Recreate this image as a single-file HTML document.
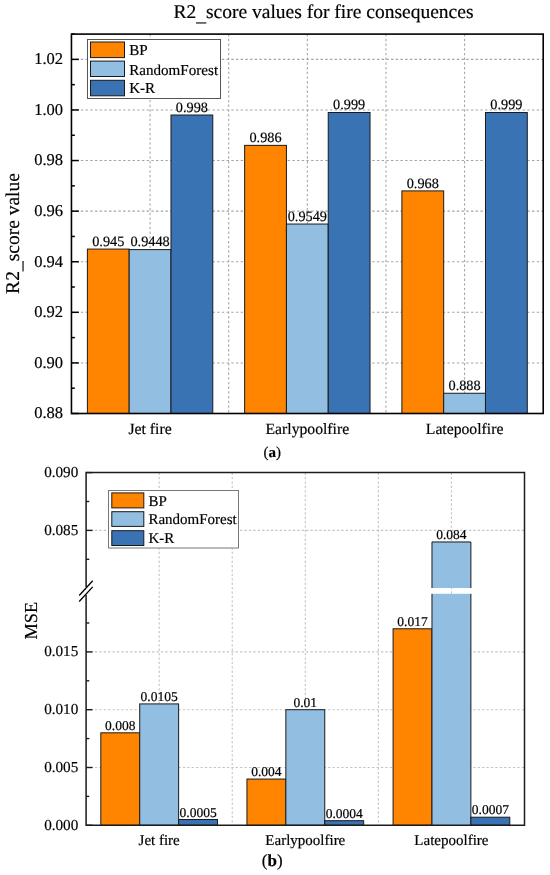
<!DOCTYPE html>
<html><head><meta charset="utf-8"><title>R2_score values for fire consequences</title>
<style>
html,body{margin:0;padding:0;background:#fff;}
body{width:550px;height:875px;overflow:hidden;}
svg{display:block;}
text{font-family:"Liberation Serif", "Times New Roman", serif;fill:#000;stroke:#000;stroke-width:0.18px;}
svg{text-rendering:geometricPrecision;}
</style></head><body>
<svg width="550" height="875" viewBox="0 0 550 875">
<rect width="550" height="875" fill="#fff"/>
<line x1="150.08" y1="34.1" x2="150.08" y2="413.5" stroke="#a4a4a4" stroke-width="1.05" stroke-dasharray="2.4 2.3"/>
<line x1="228.7" y1="34.1" x2="228.7" y2="413.5" stroke="#a4a4a4" stroke-width="1.05" stroke-dasharray="2.4 2.3"/>
<line x1="307.33" y1="34.1" x2="307.33" y2="413.5" stroke="#a4a4a4" stroke-width="1.05" stroke-dasharray="2.4 2.3"/>
<line x1="385.95" y1="34.1" x2="385.95" y2="413.5" stroke="#a4a4a4" stroke-width="1.05" stroke-dasharray="2.4 2.3"/>
<line x1="464.58" y1="34.1" x2="464.58" y2="413.5" stroke="#a4a4a4" stroke-width="1.05" stroke-dasharray="2.4 2.3"/>
<line x1="71.45" y1="362.91" x2="543.2" y2="362.91" stroke="#a4a4a4" stroke-width="1.05" stroke-dasharray="2.4 2.3"/>
<line x1="71.45" y1="312.32" x2="543.2" y2="312.32" stroke="#a4a4a4" stroke-width="1.05" stroke-dasharray="2.4 2.3"/>
<line x1="71.45" y1="261.73" x2="543.2" y2="261.73" stroke="#a4a4a4" stroke-width="1.05" stroke-dasharray="2.4 2.3"/>
<line x1="71.45" y1="211.14" x2="543.2" y2="211.14" stroke="#a4a4a4" stroke-width="1.05" stroke-dasharray="2.4 2.3"/>
<line x1="71.45" y1="160.55" x2="543.2" y2="160.55" stroke="#a4a4a4" stroke-width="1.05" stroke-dasharray="2.4 2.3"/>
<line x1="71.45" y1="109.96" x2="543.2" y2="109.96" stroke="#a4a4a4" stroke-width="1.05" stroke-dasharray="2.4 2.3"/>
<line x1="71.45" y1="59.37" x2="543.2" y2="59.37" stroke="#a4a4a4" stroke-width="1.05" stroke-dasharray="2.4 2.3"/>
<rect x="87.38" y="249.08" width="41.8" height="164.42" fill="#FF8500" stroke="#1a1a1a" stroke-width="1"/>
<text x="108.28" y="245.98" font-size="14.3" text-anchor="middle">0.945</text>
<rect x="129.18" y="249.59" width="41.8" height="163.91" fill="#92BEE1" stroke="#1a1a1a" stroke-width="1"/>
<text x="150.08" y="246.49" font-size="14.3" text-anchor="middle">0.9448</text>
<rect x="170.98" y="115.02" width="41.8" height="298.48" fill="#3973B4" stroke="#1a1a1a" stroke-width="1"/>
<text x="191.88" y="111.92" font-size="14.3" text-anchor="middle">0.998</text>
<text x="150.08" y="434" font-size="15.7" text-anchor="middle">Jet fire</text>
<rect x="244.63" y="145.37" width="41.8" height="268.13" fill="#FF8500" stroke="#1a1a1a" stroke-width="1"/>
<text x="265.53" y="142.27" font-size="14.3" text-anchor="middle">0.986</text>
<rect x="286.43" y="224.04" width="41.8" height="189.46" fill="#92BEE1" stroke="#1a1a1a" stroke-width="1"/>
<text x="307.33" y="220.94" font-size="14.3" text-anchor="middle">0.9549</text>
<rect x="328.23" y="112.49" width="41.8" height="301.01" fill="#3973B4" stroke="#1a1a1a" stroke-width="1"/>
<text x="349.12" y="109.39" font-size="14.3" text-anchor="middle">0.999</text>
<text x="307.33" y="434" font-size="15.7" text-anchor="middle">Earlypoolfire</text>
<rect x="401.88" y="190.9" width="41.8" height="222.6" fill="#FF8500" stroke="#1a1a1a" stroke-width="1"/>
<text x="422.78" y="187.8" font-size="14.3" text-anchor="middle">0.968</text>
<rect x="443.68" y="393.26" width="41.8" height="20.24" fill="#92BEE1" stroke="#1a1a1a" stroke-width="1"/>
<text x="464.58" y="390.16" font-size="14.3" text-anchor="middle">0.888</text>
<rect x="485.48" y="112.49" width="41.8" height="301.01" fill="#3973B4" stroke="#1a1a1a" stroke-width="1"/>
<text x="506.38" y="109.39" font-size="14.3" text-anchor="middle">0.999</text>
<text x="464.58" y="434" font-size="15.7" text-anchor="middle">Latepoolfire</text>
<line x1="71.45" y1="413.5" x2="78.85" y2="413.5" stroke="#000" stroke-width="1.5"/>
<text x="63" y="418.4" font-size="16.5" text-anchor="end">0.88</text>
<line x1="71.45" y1="388.2" x2="74.85" y2="388.2" stroke="#000" stroke-width="1.5"/>
<line x1="71.45" y1="362.91" x2="78.85" y2="362.91" stroke="#000" stroke-width="1.5"/>
<text x="63" y="367.81" font-size="16.5" text-anchor="end">0.90</text>
<line x1="71.45" y1="337.61" x2="74.85" y2="337.61" stroke="#000" stroke-width="1.5"/>
<line x1="71.45" y1="312.32" x2="78.85" y2="312.32" stroke="#000" stroke-width="1.5"/>
<text x="63" y="317.22" font-size="16.5" text-anchor="end">0.92</text>
<line x1="71.45" y1="287.02" x2="74.85" y2="287.02" stroke="#000" stroke-width="1.5"/>
<line x1="71.45" y1="261.73" x2="78.85" y2="261.73" stroke="#000" stroke-width="1.5"/>
<text x="63" y="266.63" font-size="16.5" text-anchor="end">0.94</text>
<line x1="71.45" y1="236.44" x2="74.85" y2="236.44" stroke="#000" stroke-width="1.5"/>
<line x1="71.45" y1="211.14" x2="78.85" y2="211.14" stroke="#000" stroke-width="1.5"/>
<text x="63" y="216.04" font-size="16.5" text-anchor="end">0.96</text>
<line x1="71.45" y1="185.85" x2="74.85" y2="185.85" stroke="#000" stroke-width="1.5"/>
<line x1="71.45" y1="160.55" x2="78.85" y2="160.55" stroke="#000" stroke-width="1.5"/>
<text x="63" y="165.45" font-size="16.5" text-anchor="end">0.98</text>
<line x1="71.45" y1="135.26" x2="74.85" y2="135.26" stroke="#000" stroke-width="1.5"/>
<line x1="71.45" y1="109.96" x2="78.85" y2="109.96" stroke="#000" stroke-width="1.5"/>
<text x="63" y="114.86" font-size="16.5" text-anchor="end">1.00</text>
<line x1="71.45" y1="84.66" x2="74.85" y2="84.66" stroke="#000" stroke-width="1.5"/>
<line x1="71.45" y1="59.37" x2="78.85" y2="59.37" stroke="#000" stroke-width="1.5"/>
<text x="63" y="64.27" font-size="16.5" text-anchor="end">1.02</text>
<line x1="71.45" y1="34.07" x2="74.85" y2="34.07" stroke="#000" stroke-width="1.5"/>
<rect x="71.45" y="34.1" width="471.75" height="379.4" fill="none" stroke="#000" stroke-width="1.6"/>
<rect x="87.5" y="39.5" width="133" height="59" fill="#fff" stroke="#555" stroke-width="1"/>
<rect x="90.5" y="42" width="34" height="15.6" fill="#FF8500" stroke="#1a1a1a" stroke-width="1"/>
<text x="129.2" y="55" font-size="15.1">BP</text>
<rect x="90.5" y="61.1" width="34" height="15.4" fill="#92BEE1" stroke="#1a1a1a" stroke-width="1"/>
<text x="129.2" y="74.5" font-size="15.1">RandomForest</text>
<rect x="90.5" y="80.3" width="34" height="15.5" fill="#3973B4" stroke="#1a1a1a" stroke-width="1"/>
<text x="129.2" y="92.7" font-size="15.1">K-R</text>
<text x="173.5" y="18.4" font-size="19.5">R2<tspan dy="2.2">_</tspan><tspan dy="-2.2">score values for fire consequences</tspan></text>
<text transform="translate(19.2 233.5) rotate(-90)" font-size="19.5" text-anchor="middle">R2<tspan dy="2">_</tspan><tspan dy="-2">score value</tspan></text>
<text x="272.2" y="457" font-size="15" text-anchor="middle">(<tspan font-weight="bold">a</tspan>)</text>
<line x1="159.17" y1="472.6" x2="159.17" y2="825.3" stroke="#c4c4c4" stroke-width="1.1" stroke-dasharray="2.3 2.1"/>
<line x1="232.23" y1="472.6" x2="232.23" y2="825.3" stroke="#c4c4c4" stroke-width="1.1" stroke-dasharray="2.3 2.1"/>
<line x1="305.3" y1="472.6" x2="305.3" y2="825.3" stroke="#c4c4c4" stroke-width="1.1" stroke-dasharray="2.3 2.1"/>
<line x1="378.37" y1="472.6" x2="378.37" y2="825.3" stroke="#c4c4c4" stroke-width="1.1" stroke-dasharray="2.3 2.1"/>
<line x1="451.43" y1="472.6" x2="451.43" y2="825.3" stroke="#c4c4c4" stroke-width="1.1" stroke-dasharray="2.3 2.1"/>
<line x1="86.1" y1="767.5" x2="524.5" y2="767.5" stroke="#c4c4c4" stroke-width="1.1" stroke-dasharray="2.3 2.1"/>
<line x1="86.1" y1="709.7" x2="524.5" y2="709.7" stroke="#c4c4c4" stroke-width="1.1" stroke-dasharray="2.3 2.1"/>
<line x1="86.1" y1="651.9" x2="524.5" y2="651.9" stroke="#c4c4c4" stroke-width="1.1" stroke-dasharray="2.3 2.1"/>
<line x1="86.1" y1="530.4" x2="524.5" y2="530.4" stroke="#c4c4c4" stroke-width="1.1" stroke-dasharray="2.3 2.1"/>
<rect x="100.82" y="732.82" width="38.9" height="92.48" fill="#FF8500" stroke="#1a1a1a" stroke-width="1"/>
<text x="120.27" y="729.82" font-size="13.5" text-anchor="middle">0.008</text>
<rect x="139.72" y="703.92" width="38.9" height="121.38" fill="#92BEE1" stroke="#1a1a1a" stroke-width="1"/>
<text x="159.17" y="700.92" font-size="13.5" text-anchor="middle">0.0105</text>
<rect x="178.62" y="819.52" width="38.9" height="5.78" fill="#3973B4" stroke="#1a1a1a" stroke-width="1"/>
<text x="198.07" y="816.52" font-size="13.5" text-anchor="middle">0.0005</text>
<text x="159.17" y="844.6" font-size="15" text-anchor="middle">Jet fire</text>
<rect x="246.95" y="779.06" width="38.9" height="46.24" fill="#FF8500" stroke="#1a1a1a" stroke-width="1"/>
<text x="266.4" y="776.06" font-size="13.5" text-anchor="middle">0.004</text>
<rect x="285.85" y="709.7" width="38.9" height="115.6" fill="#92BEE1" stroke="#1a1a1a" stroke-width="1"/>
<text x="305.3" y="706.7" font-size="13.5" text-anchor="middle">0.01</text>
<rect x="324.75" y="820.68" width="38.9" height="4.62" fill="#3973B4" stroke="#1a1a1a" stroke-width="1"/>
<text x="344.2" y="817.68" font-size="13.5" text-anchor="middle">0.0004</text>
<text x="305.3" y="844.6" font-size="15" text-anchor="middle">Earlypoolfire</text>
<rect x="393.08" y="628.78" width="38.9" height="196.52" fill="#FF8500" stroke="#1a1a1a" stroke-width="1"/>
<text x="412.53" y="625.78" font-size="13.5" text-anchor="middle">0.017</text>
<rect x="431.98" y="541.96" width="38.9" height="46.04" fill="#92BEE1" stroke="none"/>
<rect x="431.98" y="593.8" width="38.9" height="231.5" fill="#92BEE1" stroke="none"/>
<path d="M431.98 588 V541.96 H470.88 V588 M431.98 593.8 V825.3 M470.88 593.8 V825.3" fill="none" stroke="#1a1a1a" stroke-width="1"/>
<text x="451.43" y="538.96" font-size="13.5" text-anchor="middle">0.084</text>
<rect x="470.88" y="817.21" width="38.9" height="8.09" fill="#3973B4" stroke="#1a1a1a" stroke-width="1"/>
<text x="490.33" y="814.21" font-size="13.5" text-anchor="middle">0.0007</text>
<text x="451.43" y="844.6" font-size="15" text-anchor="middle">Latepoolfire</text>
<line x1="86.1" y1="825.3" x2="92.6" y2="825.3" stroke="#1c1c1c" stroke-width="1.4"/>
<text x="78.3" y="829.7" font-size="15.2" text-anchor="end">0.000</text>
<line x1="86.1" y1="796.4" x2="89.3" y2="796.4" stroke="#1c1c1c" stroke-width="1.4"/>
<line x1="86.1" y1="767.5" x2="92.6" y2="767.5" stroke="#1c1c1c" stroke-width="1.4"/>
<text x="78.3" y="771.9" font-size="15.2" text-anchor="end">0.005</text>
<line x1="86.1" y1="738.6" x2="89.3" y2="738.6" stroke="#1c1c1c" stroke-width="1.4"/>
<line x1="86.1" y1="709.7" x2="92.6" y2="709.7" stroke="#1c1c1c" stroke-width="1.4"/>
<text x="78.3" y="714.1" font-size="15.2" text-anchor="end">0.010</text>
<line x1="86.1" y1="680.8" x2="89.3" y2="680.8" stroke="#1c1c1c" stroke-width="1.4"/>
<line x1="86.1" y1="651.9" x2="92.6" y2="651.9" stroke="#1c1c1c" stroke-width="1.4"/>
<text x="78.3" y="656.3" font-size="15.2" text-anchor="end">0.015</text>
<line x1="86.1" y1="623" x2="89.3" y2="623" stroke="#1c1c1c" stroke-width="1.4"/>
<line x1="86.1" y1="559.3" x2="89.3" y2="559.3" stroke="#1c1c1c" stroke-width="1.4"/>
<line x1="86.1" y1="530.4" x2="92.6" y2="530.4" stroke="#1c1c1c" stroke-width="1.4"/>
<text x="78.3" y="534.8" font-size="15.2" text-anchor="end">0.085</text>
<line x1="86.1" y1="501.5" x2="89.3" y2="501.5" stroke="#1c1c1c" stroke-width="1.4"/>
<line x1="86.1" y1="472.6" x2="92.6" y2="472.6" stroke="#1c1c1c" stroke-width="1.4"/>
<text x="78.3" y="477" font-size="15.2" text-anchor="end">0.090</text>
<path d="M86.1 586.9 V472.6 H524.5 V825.3 H86.1 V595.1" fill="none" stroke="#1c1c1c" stroke-width="1.5"/>
<line x1="79.2" y1="595.5" x2="92.7" y2="580.8" stroke="#000" stroke-width="1.3"/>
<line x1="79.2" y1="601.5" x2="92.7" y2="586.9" stroke="#000" stroke-width="1.3"/>
<rect x="108.5" y="490.5" width="130" height="57.5" fill="#fff" stroke="#777" stroke-width="1"/>
<rect x="111.8" y="492.9" width="32" height="15" fill="#FF8500" stroke="#1a1a1a" stroke-width="1"/>
<text x="148.4" y="505.6" font-size="15">BP</text>
<rect x="111.8" y="511.7" width="32" height="14.7" fill="#92BEE1" stroke="#1a1a1a" stroke-width="1"/>
<text x="148.4" y="523.9" font-size="15">RandomForest</text>
<rect x="111.8" y="530.7" width="32" height="14.8" fill="#3973B4" stroke="#1a1a1a" stroke-width="1"/>
<text x="148.4" y="542.5" font-size="15">K-R</text>
<text transform="translate(37.2 620.6) rotate(-90)" font-size="18.3" text-anchor="middle">MSE</text>
<text x="272.2" y="866.3" font-size="17" text-anchor="middle">(<tspan font-weight="bold">b</tspan>)</text>
</svg>
</body></html>
